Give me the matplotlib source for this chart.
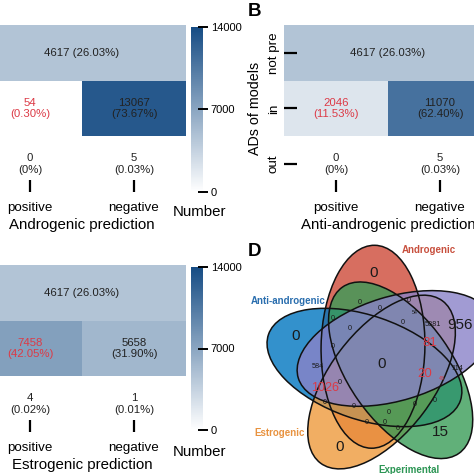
import numpy as np
import matplotlib
matplotlib.use('Agg')
import matplotlib.pyplot as plt
from matplotlib.colors import LinearSegmentedColormap
from matplotlib.patches import Ellipse

plt.rcParams['font.family'] = ['Liberation Sans', 'DejaVu Sans']

# ---- data ----
row_labels = ['not pre', 'in', 'out']
col_labels = ['positive', 'negative']
not_pre = 4617
not_pre_pct = 26.03

andro_in = [54, 13067]
andro_in_pct = [0.30, 73.67]
andro_out = [0, 5]
andro_out_pct = [0, 0.03]

anti_in = [2046, 11070]
anti_in_pct = [11.53, 62.40]
anti_out = [0, 5]
anti_out_pct = [0, 0.03]

estro_in = [7458, 5658]
estro_in_pct = [42.05, 31.90]
estro_out = [4, 1]
estro_out_pct = [0.02, 0.01]

cbar_ticks = [0, 7000, 14000]

set_names = ['Androgenic', 'Anti-androgenic', 'Estrogenic', 'Experimental', '']
venn_counts = [0, 0, 0, 15, 956, 0,
               0, 0, 0, 54, 0, 5881, 81, 20, 48, 114,
               0, 0, 0, 0, 0, 0, 0, 0, 0, 1026, 584, 0, 0, 0]
red_counts = [81, 20, 48, 1026]

# ---- layout / style ----
W = 474.0
fig = plt.figure(figsize=(4.74, 4.74), dpi=100)
cmap = LinearSegmentedColormap.from_list('blu', ['#ffffff', '#164c84'])
RED = '#dc3a46'


def px_rect(x0, y0, x1, y1):
    return [x0 / W, 1 - y1 / W, (x1 - x0) / W, (y1 - y0) / W]


def pct_text(p):
    return '(0%)' if p == 0 else '(%.2f%%)' % p


def heatmap(rect, cbar_rect, xlabel, vals_in, pct_in, vals_out, pct_out,
            show_y=False):
    ax = fig.add_axes(rect)
    grid = np.array([[not_pre, not_pre], vals_in, vals_out], dtype=float)
    mesh = ax.pcolormesh(np.arange(3), np.arange(4), grid, cmap=cmap,
                         vmin=0, vmax=14000)
    ax.set_xlim(0, 2)
    ax.set_ylim(3, 0)
    for s in ax.spines.values():
        s.set_visible(False)
    ax.text(1, 0.5, '%d (%.2f%%)' % (not_pre, not_pre_pct),
            ha='center', va='center', fontsize=8.2, color='#222222')
    for j in range(2):
        ax.text(j + 0.5, 1.5, '%d\n%s' % (vals_in[j], pct_text(pct_in[j])),
                ha='center', va='center', fontsize=8.2,
                color=RED if j == 0 else '#222222')
        ax.text(j + 0.5, 2.5, '%d\n%s' % (vals_out[j], pct_text(pct_out[j])),
                ha='center', va='center', fontsize=8.2, color='#222222')
    ax.set_xticks([0.5, 1.5], col_labels)
    ax.tick_params(direction='in', length=9, width=1.6, labelsize=9.6,
                   color='black')
    ax.tick_params(axis='x', pad=7)
    ax.set_xlabel(xlabel, fontsize=10.8, labelpad=3)
    if show_y:
        ax.set_yticks([0.5, 1.5, 2.5], row_labels, rotation=90, va='center')
        ax.tick_params(axis='y', pad=3)
        ax.set_ylabel('ADs of models', fontsize=10.3, labelpad=4)
    else:
        ax.set_yticks([])
    if cbar_rect is not None:
        cax = fig.add_axes(cbar_rect)
        cb = fig.colorbar(mesh, cax=cax, ticks=cbar_ticks)
        cb.outline.set_visible(False)
        cax.tick_params(direction='inout', length=7, width=1.4,
                        labelsize=8, pad=2)
    return ax


heatmap(px_rect(-22, 25, 186, 192), px_rect(191, 27, 203, 192),
        'Androgenic prediction', andro_in, andro_in_pct, andro_out, andro_out_pct)
heatmap(px_rect(284, 25, 492, 192), None,
        'Anti-androgenic prediction', anti_in, anti_in_pct, anti_out, anti_out_pct,
        show_y=True)
heatmap(px_rect(-22, 265, 186, 432), px_rect(191, 267, 203, 430),
        'Estrogenic prediction', estro_in, estro_in_pct, estro_out, estro_out_pct)

fig.text(200 / W, 1 - 212 / W, 'Number', ha='center', va='center', fontsize=10.8)
fig.text(200 / W, 1 - 452 / W, 'Number', ha='center', va='center', fontsize=10.8)
fig.text(248 / W, 1 - 12 / W, 'B', ha='left', va='center', fontsize=13.5,
         fontweight='bold')
fig.text(248 / W, 1 - 252 / W, 'D', ha='left', va='center', fontsize=13.5,
         fontweight='bold')

# ---- Venn ----
cx_px, cy_px, scale = 383.0, 363.0, 118.0
vax = fig.add_axes(px_rect(237, 240, 474, 474))
vax.set_xlim((237 - cx_px) / scale, (474 - cx_px) / scale)
vax.set_ylim((cy_px - 474) / scale, (cy_px - 240) / scale)
vax.axis('off')

set_colors = ['#cd4a38', '#0076c0', '#ee9a3c', '#3a9c58', '#8a82c8']
label_colors = ['#c8503e', '#2a6eae', '#e8923f', '#2d9655', '#7a72b8']
label_pos = [(429, 250), (288, 301), (280, 433), (409, 470), (500, 300)]
A_ax, B_ax, lam = 0.86, 0.44, -5.0
ell = []
for k in range(5):
    th = 94 + 72 * k
    rot = np.deg2rad(th - 90)
    x0 = A_ax * np.sin(np.deg2rad(lam))
    y0 = 1 - A_ax * np.cos(np.deg2rad(lam))
    ex = x0 * np.cos(rot) - y0 * np.sin(rot)
    ey = x0 * np.sin(rot) + y0 * np.cos(rot)
    ell.append(((ex, ey), th + lam))
for k, ((ex, ey), ang) in enumerate(ell):
    vax.add_patch(Ellipse((ex, ey), 2 * A_ax, 2 * B_ax, angle=ang,
                          facecolor=set_colors[k], alpha=0.8, lw=0))
for (ex, ey), ang in ell:
    vax.add_patch(Ellipse((ex, ey), 2 * A_ax, 2 * B_ax, angle=ang,
                          fill=False, edgecolor='#111111', lw=1.1))
for k, name in enumerate(set_names):
    lx, ly = label_pos[k]
    vax.text((lx - cx_px) / scale, (cy_px - ly) / scale, name,
             color=label_colors[k], fontsize=7, fontweight='bold',
             ha='center', va='center')

venn_pos = [(374, 273), (296, 336), (340, 447), (440, 432), (460, 325), (382, 364),
            (360, 303), (380, 309), (409, 300), (415, 312), (403, 322), (433, 324),
            (430, 343), (425, 374), (442, 379), (457, 369),
            (435, 400), (415, 405), (389, 412), (398, 428), (385, 423), (367, 423),
            (354, 406), (325, 403), (340, 382), (325, 388), (318, 367), (333, 347),
            (350, 329), (333, 318)]
for i, (n, (px, py)) in enumerate(zip(venn_counts, venn_pos)):
    if i < 6:
        fs = 11
    elif n in (81, 20):
        fs = 9.5
    elif n == 1026:
        fs = 9
    elif n in (54, 48):
        fs = 3.8
    else:
        fs = 5.2
    vax.text((px - cx_px) / scale, (cy_px - py) / scale, str(n),
             fontsize=fs, ha='center', va='center',
             color=RED if (n in red_counts and i >= 6) else '#1a1a1a')

fig.savefig('out.png', dpi=100)
